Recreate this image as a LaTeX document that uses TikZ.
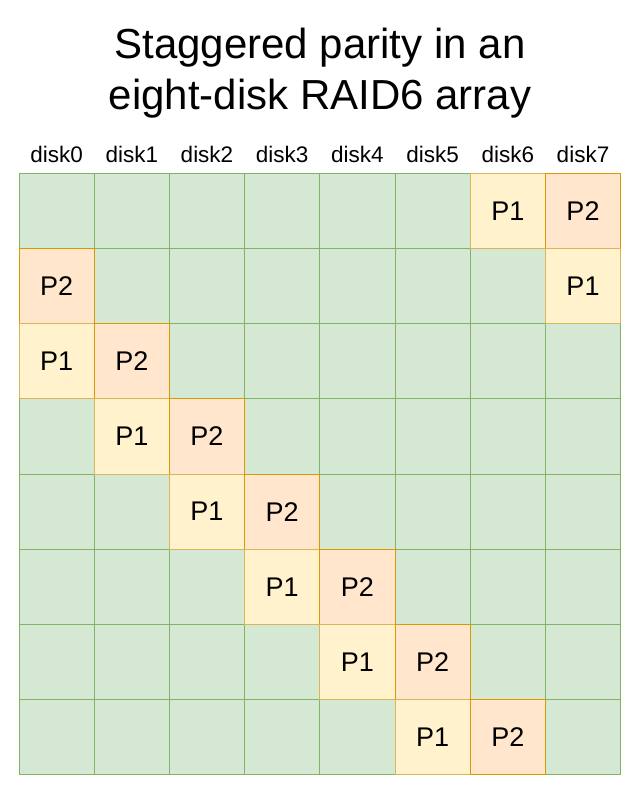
\documentclass[tikz,border=0pt]{standalone}
\usepackage{fontspec}
\setmainfont{Liberation Sans}
\definecolor{gfill}{HTML}{D5E8D4}
\definecolor{gline}{HTML}{82B366}
\definecolor{yfill}{HTML}{FFF2CC}
\definecolor{yline}{HTML}{D6B656}
\definecolor{ofill}{HTML}{FFE6CC}
\definecolor{oline}{HTML}{D79B00}
\tikzset{
  cellbase/.style={rectangle, minimum width=75.2pt, minimum height=75.2pt, inner sep=0pt, line width=1pt, font=\fontsize{27}{32}\selectfont},
  cellg/.style={cellbase, fill=gfill, draw=gline},
  cellp/.style={cellbase, fill=yfill, draw=yline},
  cellq/.style={cellbase, fill=ofill, draw=oline},
  headtxt/.style={anchor=base, inner sep=0pt, font=\fontsize{22.5}{27}\selectfont},
  titletxt/.style={anchor=base, inner sep=0pt, font=\fontsize{42}{50}\selectfont}
}
\begin{document}
\begin{tikzpicture}[x=1pt,y=-1pt]
\useasboundingbox (0,0) rectangle (640,794);
\node[titletxt] (title1) at (320,59) {Staggered parity in an};
\node[titletxt] (title2) at (320,110) {eight-disk RAID6 array};
\foreach \c in {0,...,7}{
  \node[headtxt] (h\c) at ({19+75.2*\c+37.6},163) {disk\c};
}
\foreach \r in {0,...,7}{
  \foreach \c in {0,...,7}{
    \node[cellg] (g\r\c) at ({19+75.2*\c+37.6},{173.3+75.2*\r+37.6}) {};
  }
}
% parity cells
\node[cellp] (p06) at ({19+75.2*6+37.6},{173.3+37.6}) {P1};
\node[cellq] (q07) at ({19+75.2*7+37.6},{173.3+37.6}) {P2};
\node[cellq] (q10) at ({19+37.6},{173.3+75.2+37.6}) {P2};
\node[cellp] (p17) at ({19+75.2*7+37.6},{173.3+75.2+37.6}) {P1};
\foreach \r in {2,...,7}{
  \pgfmathtruncatemacro{\ca}{\r-2}
  \pgfmathtruncatemacro{\cb}{\r-1}
  \node[cellp] (p\r\ca) at ({19+75.2*\ca+37.6},{173.3+75.2*\r+37.6}) {P1};
  \node[cellq] (q\r\cb) at ({19+75.2*\cb+37.6},{173.3+75.2*\r+37.6}) {P2};
}
\end{tikzpicture}
\end{document}
